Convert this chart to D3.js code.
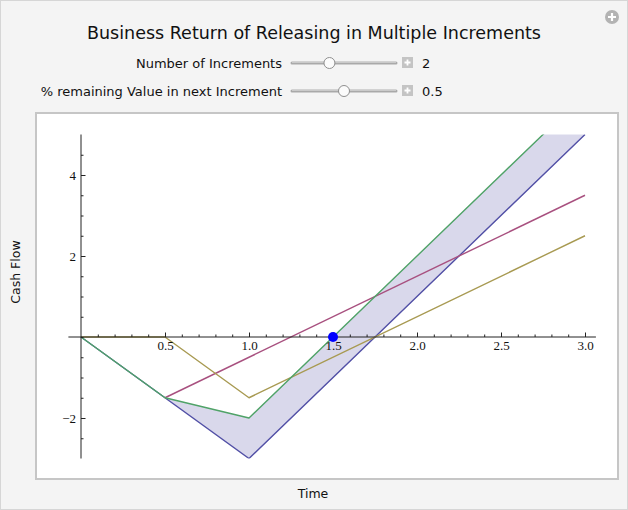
<!DOCTYPE html>
<html>
<head>
<meta charset="utf-8">
<script src="https://cdn.jsdelivr.net/npm/d3@7"></script>
<style>
  html, body { margin: 0; padding: 0; background: #f4f4f4; }
  svg { display: block; }
</style>
</head>
<body>
<svg id="chart" width="628" height="510"></svg>
<script>
// series (time, cash flow)
var blueSeries    = [[0, 0], [1, -3], [3, 5]];
var magentaSeries = [[0.5, -1.5], [3, 3.5]];
var oliveSeries   = [[0, 0], [0.5, 0], [1, -1.5], [3, 2.5]];
var greenSeries   = [[0, 0], [0.5, -1.5], [1, -2], [3, 6]];
var markerPoint   = [1.5, 0];

var xMajorTicks = [0.5, 1.0, 1.5, 2.0, 2.5, 3.0];
var xMinorTicks = [0.1,0.2,0.3,0.4,0.6,0.7,0.8,0.9,1.1,1.2,1.3,1.4,1.6,1.7,1.8,1.9,2.1,2.2,2.3,2.4,2.6,2.7,2.8,2.9];
var yMajorTicks = [-2, 2, 4];
var yMinorTicks = [-2.5,-1.5,-1,-0.5,0,0.5,1,1.5,2.5,3,3.5,4.5];

var sliderLabels = ["Number of Increments", "% remaining Value in next Increment"];
var sliderValues = ["2", "0.5"];
var sliderFrac   = [0.36, 0.5];

var svg = d3.select("#chart");
var sans = "'DejaVu Sans', sans-serif";
var serif = "'Liberation Serif', 'DejaVu Serif', serif";

// outer frame
svg.append("rect").attr("x", 0.5).attr("y", 0.5).attr("width", 627).attr("height", 509)
  .attr("fill", "#f4f4f4").attr("stroke", "#d6d6d6");

// little plus icon in the corner
var plusIcon = svg.append("g").attr("transform", "translate(612,17)");
plusIcon.append("circle").attr("r", 7).attr("fill", "#b3b3b3");
plusIcon.append("path").attr("d", "M-4,0H4M0,-4V4").attr("stroke", "#fff").attr("stroke-width", 2.2);

svg.append("text")
  .attr("x", 314).attr("y", 39)
  .attr("text-anchor", "middle")
  .style("font-family", sans).style("font-size", "17.5px").style("fill", "#111")
  .text("Business Return of Releasing in Multiple Increments");

// sliders
var sliderRow = svg.selectAll("g.slider").data(sliderLabels).enter().append("g")
  .attr("class", "slider")
  .attr("transform", (d, i) => "translate(0," + (63 + i * 28) + ")");

sliderRow.append("text")
  .attr("x", 282).attr("y", 4.5).attr("text-anchor", "end")
  .style("font-family", sans).style("font-size", "13px").style("fill", "#111")
  .text(d => d);

sliderRow.append("line")
  .attr("x1", 292).attr("x2", 396).attr("y1", 0).attr("y2", 0)
  .attr("stroke", "#a9a9a9").attr("stroke-width", 3).attr("stroke-linecap", "round");
sliderRow.append("line")
  .attr("x1", 292).attr("x2", 396).attr("y1", -0.8).attr("y2", -0.8)
  .attr("stroke", "#d9d9d9").attr("stroke-width", 1);

sliderRow.append("circle")
  .attr("cx", (d, i) => 292 + sliderFrac[i] * 104).attr("cy", 0).attr("r", 5.5)
  .attr("fill", "#fbfbfb").attr("stroke", "#8f8f8f").attr("stroke-width", 1);

sliderRow.append("rect")
  .attr("x", 402).attr("y", -6).attr("width", 11).attr("height", 11)
  .attr("fill", "#c4c4c4");
sliderRow.append("path")
  .attr("d", "M404.5,-0.5H410.5M407.5,-3.5V2.5")
  .attr("stroke", "#fff").attr("stroke-width", 1.8);

sliderRow.append("text")
  .attr("x", 422).attr("y", 4.5)
  .style("font-family", sans).style("font-size", "13px").style("fill", "#111")
  .text((d, i) => sliderValues[i]);

// plot panel
svg.append("rect").attr("x", 36).attr("y", 113).attr("width", 582).attr("height", 366)
  .attr("fill", "#fff").attr("stroke", "#c6c6c6").attr("stroke-width", 2);

var x = d3.scaleLinear().domain([0, 3]).range([81, 585]);
var y = d3.scaleLinear().domain([-3, 5]).range([458.5, 134.5]);

svg.append("clipPath").attr("id", "plotClip")
  .append("rect")
  .attr("x", x(-0.1)).attr("y", y(5)).attr("width", x(3.1) - x(-0.1)).attr("height", y(-3) - y(5));

var plot = svg.append("g").attr("clip-path", "url(#plotClip)");

var line = d3.line().x(d => x(d[0])).y(d => y(d[1]));

// filling between first and last curve
plot.append("path")
  .datum(greenSeries.concat(blueSeries.slice().reverse()))
  .attr("d", d => line(d) + "Z")
  .attr("fill", "#3f3d99").attr("fill-opacity", 0.2).attr("stroke", "none");

var curves = [
  { data: blueSeries,    color: "#5250a6" },
  { data: magentaSeries, color: "#a8507f" },
  { data: oliveSeries,   color: "#a89a52" },
  { data: greenSeries,   color: "#50a368" }
];

// axes
var axisG = svg.append("g");

axisG.append("line")
  .attr("x1", x(-0.075)).attr("x2", x(3.065)).attr("y1", y(0)).attr("y2", y(0))
  .attr("stroke", "#222").attr("stroke-width", 1);
axisG.append("line")
  .attr("x1", x(0)).attr("x2", x(0)).attr("y1", y(5)).attr("y2", y(-3))
  .attr("stroke", "#222").attr("stroke-width", 1);

function styleAxis(sel) {
  sel.select(".domain").remove();
  sel.selectAll(".tick line").attr("stroke", "#222");
  sel.selectAll(".tick text").style("font-family", serif).style("font-size", "13px").attr("fill", "#111");
}

axisG.append("g").attr("transform", "translate(0," + y(0) + ")")
  .call(d3.axisBottom(x).tickValues(xMajorTicks).tickSize(-4.5).tickPadding(4).tickFormat(d3.format(".1f")))
  .call(styleAxis);
axisG.append("g").attr("transform", "translate(0," + y(0) + ")")
  .call(d3.axisBottom(x).tickValues(xMinorTicks).tickSize(-2.5).tickFormat(""))
  .call(styleAxis);

axisG.append("g").attr("transform", "translate(" + x(0) + ",0)")
  .call(d3.axisLeft(y).tickValues(yMajorTicks).tickSize(-4.5).tickPadding(5).tickFormat(d3.format("d")))
  .call(styleAxis);
axisG.append("g").attr("transform", "translate(" + x(0) + ",0)")
  .call(d3.axisLeft(y).tickValues(yMinorTicks).tickSize(-2.5).tickFormat(""))
  .call(styleAxis);

plot.selectAll("path.curve").data(curves).enter().append("path")
  .attr("class", "curve")
  .attr("d", d => line(d.data))
  .attr("fill", "none")
  .attr("stroke", d => d.color)
  .attr("stroke-width", 1.4)
  .attr("stroke-linejoin", "round");

svg.append("circle")
  .attr("cx", x(markerPoint[0])).attr("cy", y(markerPoint[1])).attr("r", 5)
  .attr("fill", "#0000ff");

// axis labels
svg.append("text")
  .attr("transform", "translate(20,272) rotate(-90)")
  .attr("text-anchor", "middle")
  .style("font-family", sans).style("font-size", "12.5px").style("fill", "#111")
  .text("Cash Flow");

svg.append("text")
  .attr("x", 313).attr("y", 498).attr("text-anchor", "middle")
  .style("font-family", sans).style("font-size", "12.5px").style("fill", "#111")
  .text("Time");
</script>
</body>
</html>
